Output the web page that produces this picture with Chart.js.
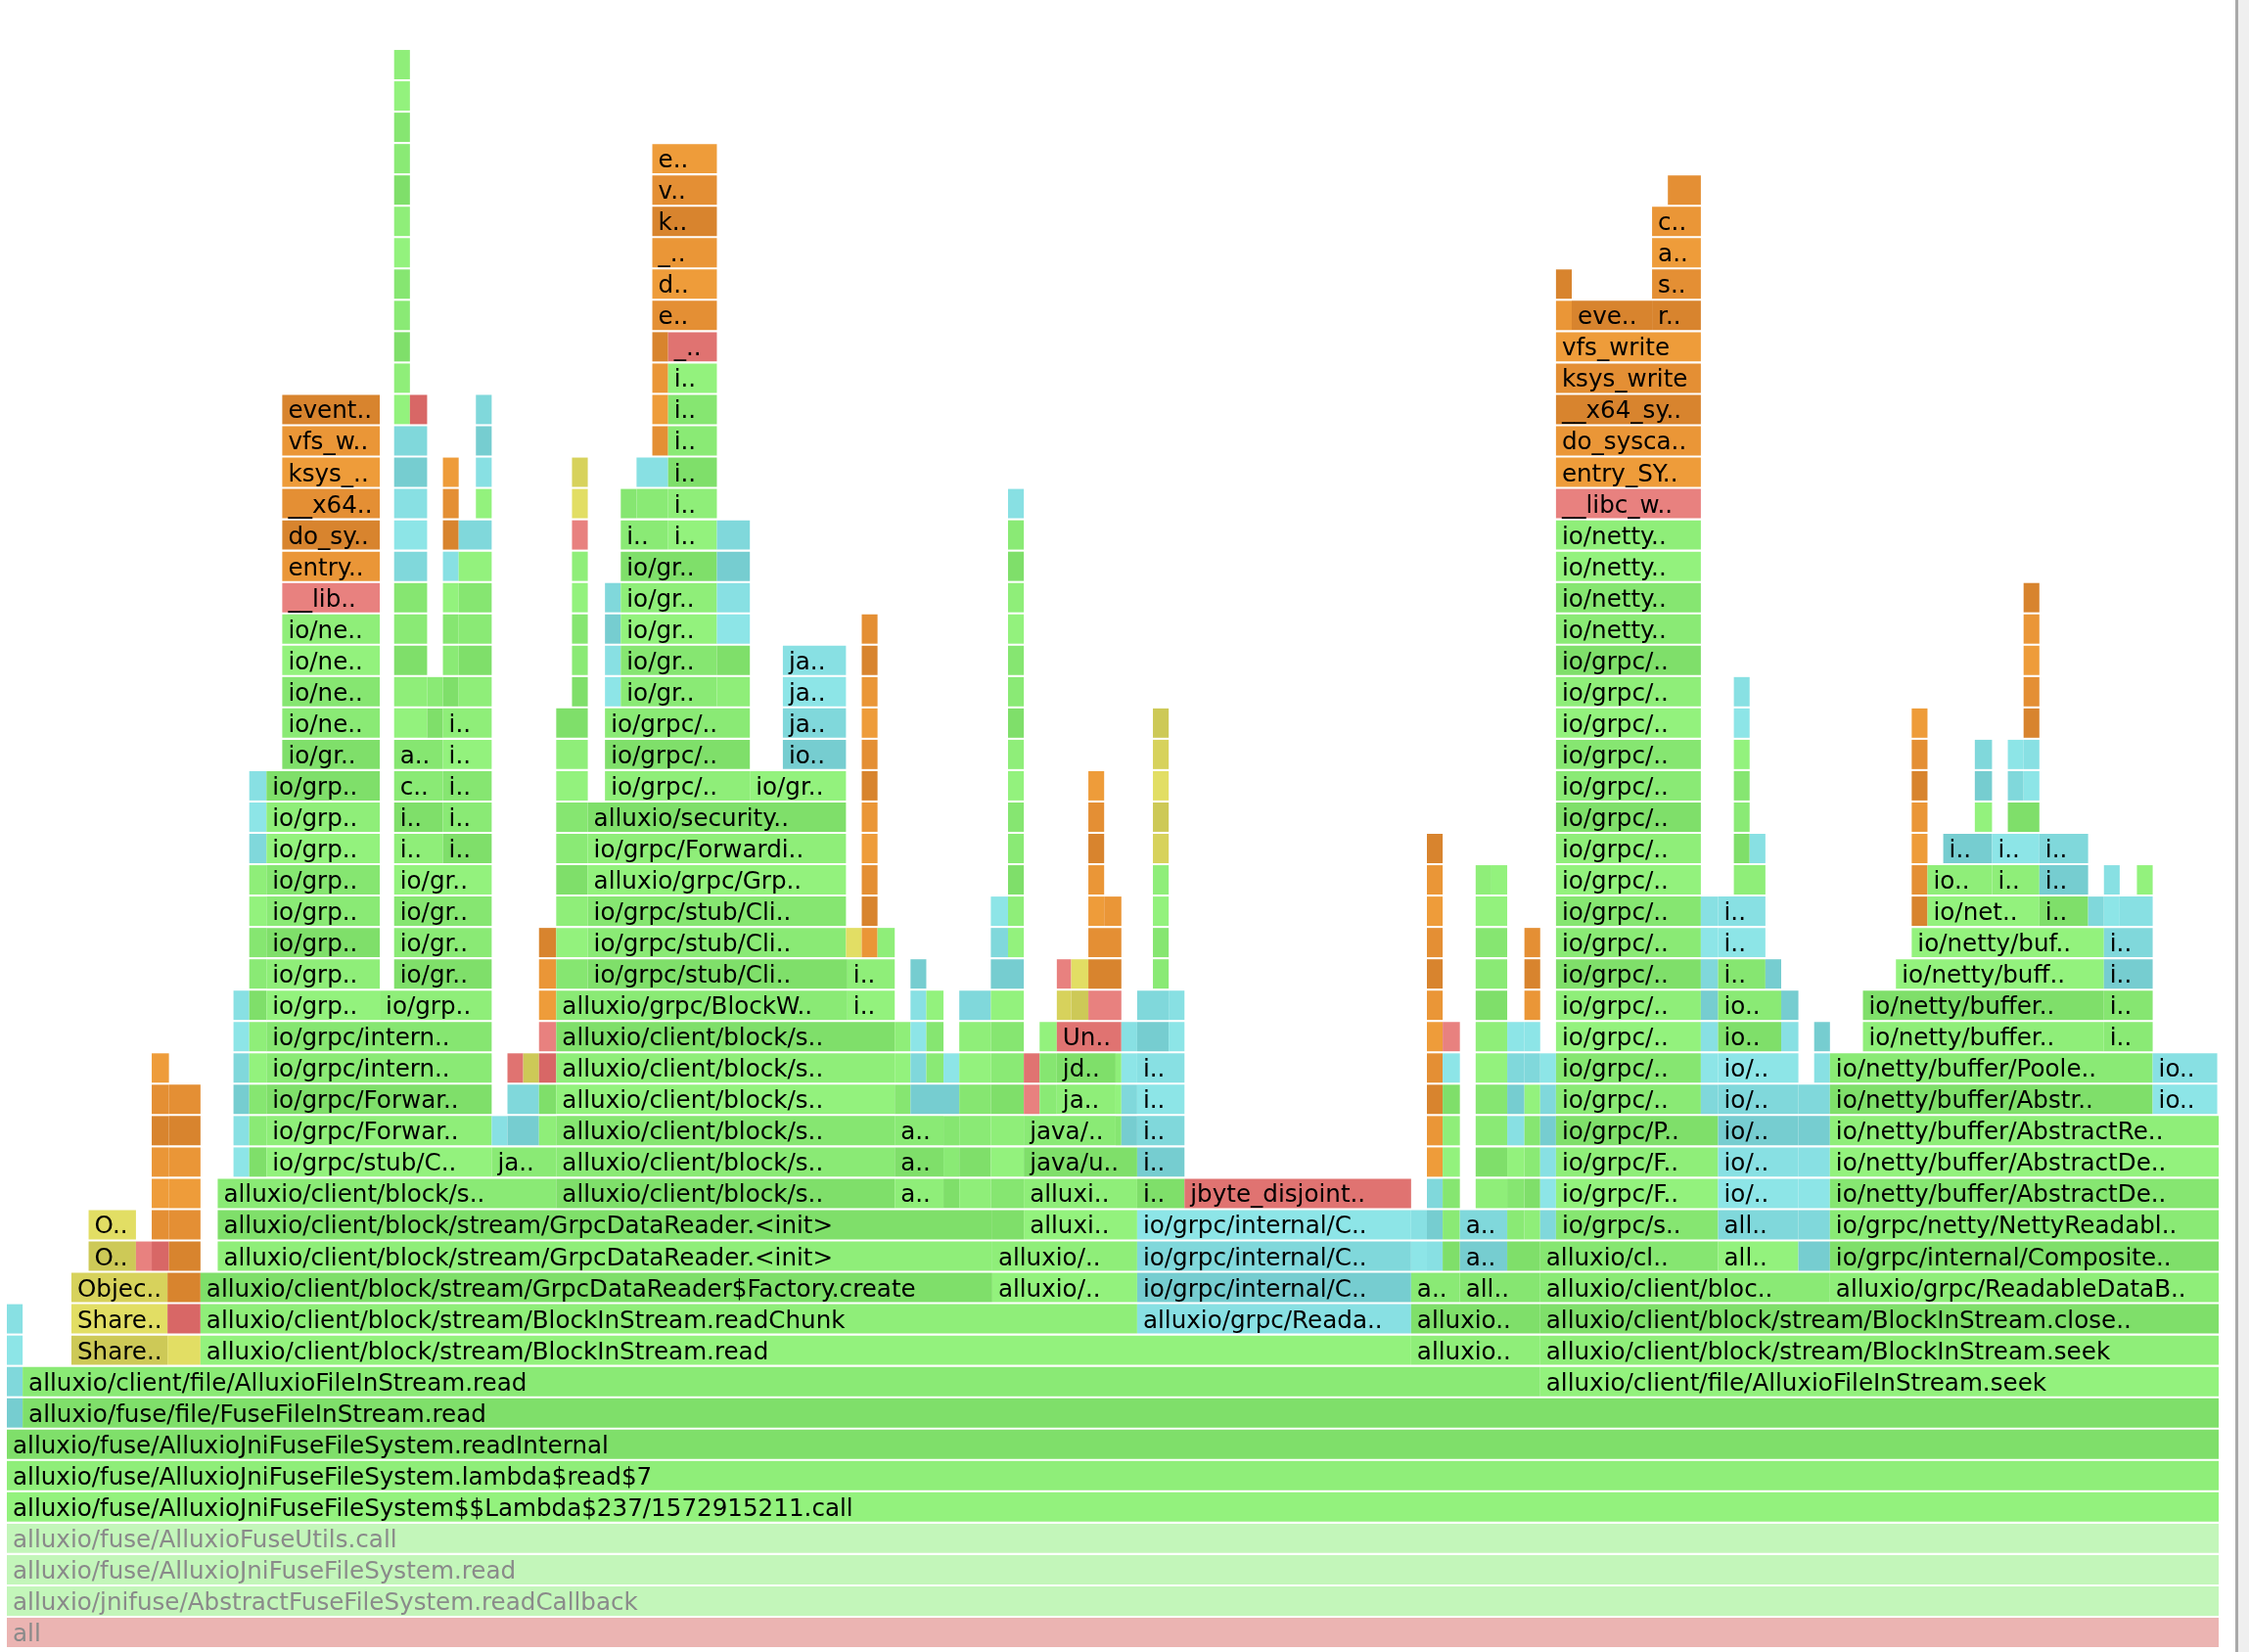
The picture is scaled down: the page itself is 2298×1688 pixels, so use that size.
<!DOCTYPE html>
<html>
<head>
<meta charset="utf-8">
<script src="https://cdn.jsdelivr.net/npm/chart.js@4.4.0/dist/chart.umd.min.js"></script>
<style>
  html, body { margin: 0; padding: 0; background: #fff; }
  #wrap { position: relative; width: 2298px; height: 1688px; overflow: hidden; }
  #side { position: absolute; left: 2284px; top: 0; width: 14px; height: 1688px; background: #efefef; border-left: 3px solid #a9a9a9; }
</style>
</head>
<body>
<div id="wrap">
  <canvas id="flame" width="2298" height="1688"></canvas>
  <div id="side"></div>
</div>
<script>
// stack depth levels (0 = root "all")
const levels = ['0','1','2','3','4','5','6','7','8','9','10','11','12','13','14','15','16','17','18','19','20',
  '21','22','23','24','25','26','27','28','29','30','31','32','33','34','35','36','37','38','39','40',
  '41','42','43','44','45','46','47','48','49','50'];

// frames: [level, startSample, endSample, kind, label]
// kind: J = java, I = inlined, K = kernel, N = native, C = c++
const baseFrames = [
  [0, 5, 1547, 'N', 'all'],
  [1, 5, 1547, 'J', 'alluxio/jnifuse/AbstractFuseFileSystem.readCallback'],
  [2, 5, 1547, 'J', 'alluxio/fuse/AlluxioJniFuseFileSystem.read'],
  [3, 5, 1547, 'J', 'alluxio/fuse/AlluxioFuseUtils.call'],
  [4, 5, 1547, 'J', 'alluxio/fuse/AlluxioJniFuseFileSystem$$Lambda$237/1572915211.call'],
  [5, 5, 1547, 'J', 'alluxio/fuse/AlluxioJniFuseFileSystem.lambda$read$7'],
  [6, 5, 1547, 'J', 'alluxio/fuse/AlluxioJniFuseFileSystem.readInternal'],
  [7, 5, 16, 'I', ''], [7, 16, 1547, 'J', 'alluxio/fuse/file/FuseFileInStream.read'],
  [8, 5, 16, 'I', ''], [8, 16, 1074, 'J', 'alluxio/client/file/AlluxioFileInStream.read'],
  [8, 1074, 1547, 'J', 'alluxio/client/file/AlluxioFileInStream.seek'],
  [9, 5, 16, 'I', ''], [9, 50, 117, 'C', 'Share..'], [9, 117, 140, 'C', ''],
  [9, 140, 984, 'J', 'alluxio/client/block/stream/BlockInStream.read'], [9, 984, 1074, 'J', 'alluxio..'],
  [9, 1074, 1547, 'J', 'alluxio/client/block/stream/BlockInStream.seek'],
  [10, 5, 16, 'I', ''], [10, 50, 117, 'C', 'Share..'], [10, 117, 140, 'N', ''],
  [10, 140, 793, 'J', 'alluxio/client/block/stream/BlockInStream.readChunk'],
  [10, 793, 984, 'I', 'alluxio/grpc/Reada..'], [10, 984, 1074, 'J', 'alluxio..'],
  [10, 1074, 1547, 'J', 'alluxio/client/block/stream/BlockInStream.close..'],
  [11, 50, 117, 'C', 'Objec..'], [11, 117, 140, 'K', ''],
  [11, 140, 692, 'J', 'alluxio/client/block/stream/GrpcDataReader$Factory.create'],
  [11, 692, 793, 'J', 'alluxio/..'], [11, 793, 984, 'I', 'io/grpc/internal/C..'],
  [11, 984, 1018, 'J', 'a..'], [11, 1018, 1074, 'J', 'all..'],
  [11, 1074, 1276, 'J', 'alluxio/client/bloc..'], [11, 1276, 1547, 'J', 'alluxio/grpc/ReadableDataB..'],
  [12, 62, 95, 'C', 'O..'], [12, 95, 106, 'N', ''], [12, 106, 118, 'N', ''], [12, 118, 140, 'K', ''],
  [12, 152, 692, 'J', 'alluxio/client/block/stream/GrpcDataReader.<init>'],
  [12, 692, 793, 'J', 'alluxio/..'], [12, 793, 984, 'I', 'io/grpc/internal/C..'],
  [12, 984, 995, 'I', ''], [12, 995, 1006, 'I', ''], [12, 1006, 1018, 'J', ''],
  [12, 1018, 1051, 'I', 'a..'], [12, 1051, 1074, 'J', ''],
  [12, 1074, 1198, 'J', 'alluxio/cl..'], [12, 1198, 1254, 'J', 'all..'], [12, 1254, 1276, 'I', ''],
  [12, 1276, 1547, 'J', 'io/grpc/internal/Composite..'],
  [13, 62, 95, 'C', 'O..'], [13, 106, 118, 'K', ''], [13, 118, 140, 'K', ''],
  [13, 152, 692, 'J', 'alluxio/client/block/stream/GrpcDataReader.<init>'],
  [13, 692, 714, 'J', ''], [13, 714, 793, 'J', 'alluxi..'], [13, 793, 984, 'I', 'io/grpc/internal/C..'],
  [13, 984, 995, 'I', ''], [13, 995, 1006, 'I', ''], [13, 1006, 1018, 'J', ''],
  [13, 1018, 1051, 'I', 'a..'], [13, 1051, 1063, 'J', ''], [13, 1063, 1074, 'J', ''],
  [13, 1074, 1085, 'I', ''], [13, 1085, 1198, 'J', 'io/grpc/s..'], [13, 1198, 1254, 'I', 'all..'],
  [13, 1254, 1276, 'I', ''], [13, 1276, 1547, 'J', 'io/grpc/netty/NettyReadabl..'],
  [14, 106, 118, 'K', ''], [14, 118, 140, 'K', ''],
  [15, 106, 118, 'K', ''], [15, 118, 140, 'K', ''],
  [16, 106, 118, 'K', ''], [16, 118, 140, 'K', ''],
  [17, 106, 118, 'K', ''], [17, 118, 140, 'K', ''],
  [18, 106, 118, 'K', '']
];

const leftTower = [
  [14, 152, 388, 'J', 'alluxio/client/block/s..'],
  [15, 163, 174, 'I', ''], [15, 174, 186, 'J', ''], [15, 186, 343, 'J', 'io/grpc/stub/C..'], [15, 343, 388, 'J', 'ja..'],
  [16, 163, 174, 'I', ''], [16, 174, 186, 'J', ''], [16, 186, 343, 'J', 'io/grpc/Forwar..'],
  [16, 343, 354, 'I', ''], [16, 354, 376, 'I', ''], [16, 376, 388, 'J', ''],
  [17, 163, 174, 'I', ''], [17, 174, 186, 'J', ''], [17, 186, 343, 'J', 'io/grpc/Forwar..'],
  [17, 354, 376, 'I', ''], [17, 376, 388, 'J', ''],
  [18, 163, 174, 'I', ''], [18, 174, 186, 'J', ''], [18, 186, 343, 'J', 'io/grpc/intern..'],
  [18, 354, 365, 'N', ''], [18, 365, 376, 'C', ''], [18, 376, 388, 'N', ''],
  [19, 163, 174, 'I', ''], [19, 174, 186, 'J', ''], [19, 186, 343, 'J', 'io/grpc/intern..'], [19, 376, 388, 'N', ''],
  [20, 163, 174, 'I', ''], [20, 174, 186, 'J', ''], [20, 186, 265, 'J', 'io/grp..'], [20, 265, 343, 'J', 'io/grp..'], [20, 376, 388, 'K', ''],
  [21, 174, 186, 'J', ''], [21, 186, 265, 'J', 'io/grp..'], [21, 275, 343, 'J', 'io/gr..'], [21, 376, 388, 'K', ''],
  [22, 174, 186, 'J', ''], [22, 186, 265, 'J', 'io/grp..'], [22, 275, 343, 'J', 'io/gr..'], [22, 376, 388, 'K', ''],
  [23, 174, 186, 'J', ''], [23, 186, 265, 'J', 'io/grp..'], [23, 275, 343, 'J', 'io/gr..'],
  [24, 174, 186, 'J', ''], [24, 186, 265, 'J', 'io/grp..'], [24, 275, 343, 'J', 'io/gr..'],
  [25, 174, 186, 'I', ''], [25, 186, 265, 'J', 'io/grp..'], [25, 275, 309, 'J', 'i..'], [25, 309, 343, 'J', 'i..'],
  [26, 174, 186, 'I', ''], [26, 186, 265, 'J', 'io/grp..'], [26, 275, 309, 'J', 'i..'], [26, 309, 343, 'J', 'i..'],
  [27, 174, 186, 'I', ''], [27, 186, 265, 'J', 'io/grp..'], [27, 275, 309, 'J', 'c..'], [27, 309, 343, 'J', 'i..'],
  [28, 197, 265, 'J', 'io/gr..'], [28, 275, 309, 'J', 'a..'], [28, 309, 343, 'J', 'i..'],
  [29, 197, 265, 'J', 'io/ne..'], [29, 275, 298, 'J', ''], [29, 298, 309, 'J', ''], [29, 309, 343, 'J', 'i..'],
  [30, 197, 265, 'J', 'io/ne..'], [30, 275, 298, 'J', ''], [30, 298, 309, 'J', ''], [30, 309, 320, 'J', ''], [30, 320, 343, 'J', ''],
  [31, 197, 265, 'J', 'io/ne..'], [31, 275, 298, 'J', ''], [31, 309, 320, 'J', ''], [31, 320, 343, 'J', ''],
  [32, 197, 265, 'J', 'io/ne..'], [32, 275, 298, 'J', ''], [32, 309, 320, 'J', ''], [32, 320, 343, 'J', ''],
  [33, 197, 265, 'N', '__lib..'], [33, 275, 298, 'J', ''], [33, 309, 320, 'J', ''], [33, 320, 343, 'J', ''],
  [34, 197, 265, 'K', 'entry..'], [34, 275, 298, 'I', ''], [34, 309, 320, 'I', ''], [34, 320, 343, 'J', ''],
  [35, 197, 265, 'K', 'do_sy..'], [35, 275, 298, 'I', ''], [35, 309, 320, 'K', ''], [35, 320, 343, 'I', ''],
  [36, 197, 265, 'K', '__x64..'], [36, 275, 298, 'I', ''], [36, 309, 320, 'K', ''], [36, 332, 343, 'J', ''],
  [37, 197, 265, 'K', 'ksys_..'], [37, 275, 298, 'I', ''], [37, 309, 320, 'K', ''], [37, 332, 343, 'I', ''],
  [38, 197, 265, 'K', 'vfs_w..'], [38, 275, 298, 'I', ''], [38, 332, 343, 'I', ''],
  [39, 197, 265, 'K', 'event..'], [39, 275, 286, 'J', ''], [39, 286, 298, 'N', ''], [39, 332, 343, 'I', ''],
  [40, 275, 286, 'J', ''], [41, 275, 286, 'J', ''], [42, 275, 286, 'J', ''], [43, 275, 286, 'J', ''],
  [44, 275, 286, 'J', ''], [45, 275, 286, 'J', ''], [46, 275, 286, 'J', ''], [47, 275, 286, 'J', ''],
  [48, 275, 286, 'J', ''], [49, 275, 286, 'J', ''], [50, 275, 286, 'J', '']
];

const grpcTower = [
  [14, 388, 624, 'J', 'alluxio/client/block/s..'], [15, 388, 624, 'J', 'alluxio/client/block/s..'],
  [16, 388, 624, 'J', 'alluxio/client/block/s..'], [17, 388, 624, 'J', 'alluxio/client/block/s..'],
  [18, 388, 624, 'J', 'alluxio/client/block/s..'], [19, 388, 624, 'J', 'alluxio/client/block/s..'],
  [20, 388, 591, 'J', 'alluxio/grpc/BlockW..'], [20, 591, 624, 'J', 'i..'],
  [21, 388, 410, 'J', ''], [21, 410, 591, 'J', 'io/grpc/stub/Cli..'], [21, 591, 624, 'J', 'i..'],
  [22, 388, 410, 'J', ''], [22, 410, 590, 'J', 'io/grpc/stub/Cli..'], [22, 590, 601, 'C', ''], [22, 601, 612, 'K', ''], [22, 612, 624, 'J', ''],
  [23, 388, 410, 'J', ''], [23, 410, 590, 'J', 'io/grpc/stub/Cli..'], [23, 601, 612, 'K', ''],
  [24, 388, 410, 'J', ''], [24, 410, 590, 'J', 'alluxio/grpc/Grp..'], [24, 601, 612, 'K', ''],
  [25, 388, 410, 'J', ''], [25, 410, 590, 'J', 'io/grpc/Forwardi..'], [25, 601, 612, 'K', ''],
  [26, 388, 410, 'J', ''], [26, 410, 590, 'J', 'alluxio/security..'], [26, 601, 612, 'K', ''],
  [27, 388, 410, 'J', ''], [27, 422, 523, 'J', 'io/grpc/..'], [27, 523, 590, 'J', 'io/gr..'], [27, 601, 612, 'K', ''],
  [28, 388, 410, 'J', ''], [28, 422, 523, 'J', 'io/grpc/..'], [28, 546, 590, 'I', 'io..'], [28, 601, 612, 'K', ''],
  [29, 388, 410, 'J', ''], [29, 422, 523, 'J', 'io/grpc/..'], [29, 546, 590, 'I', 'ja..'], [29, 601, 612, 'K', ''],
  [30, 399, 410, 'J', ''], [30, 422, 433, 'I', ''], [30, 433, 500, 'J', 'io/gr..'], [30, 500, 523, 'J', ''], [30, 546, 590, 'I', 'ja..'], [30, 601, 612, 'K', ''],
  [31, 399, 410, 'J', ''], [31, 422, 433, 'I', ''], [31, 433, 500, 'J', 'io/gr..'], [31, 500, 523, 'J', ''], [31, 546, 590, 'I', 'ja..'], [31, 601, 612, 'K', ''],
  [32, 399, 410, 'J', ''], [32, 422, 433, 'I', ''], [32, 433, 500, 'J', 'io/gr..'], [32, 500, 523, 'I', ''], [32, 601, 612, 'K', ''],
  [33, 399, 410, 'J', ''], [33, 422, 433, 'I', ''], [33, 433, 500, 'J', 'io/gr..'], [33, 500, 523, 'I', ''],
  [34, 399, 410, 'J', ''], [34, 433, 500, 'J', 'io/gr..'], [34, 500, 523, 'I', ''],
  [35, 399, 410, 'N', ''], [35, 433, 466, 'J', 'i..'], [35, 466, 500, 'J', 'i..'], [35, 500, 523, 'I', ''],
  [36, 399, 410, 'C', ''], [36, 433, 444, 'J', ''], [36, 444, 466, 'J', ''], [36, 466, 500, 'J', 'i..'],
  [37, 399, 410, 'C', ''], [37, 444, 466, 'I', ''], [37, 466, 500, 'J', 'i..'],
  [38, 455, 466, 'K', ''], [38, 466, 500, 'J', 'i..'],
  [39, 455, 466, 'K', ''], [39, 466, 500, 'J', 'i..'],
  [40, 455, 466, 'K', ''], [40, 466, 500, 'J', 'i..'],
  [41, 455, 466, 'K', ''], [41, 466, 500, 'N', '_..'],
  [42, 455, 500, 'K', 'e..'], [43, 455, 500, 'K', 'd..'], [44, 455, 500, 'K', '_..'],
  [45, 455, 500, 'K', 'k..'], [46, 455, 500, 'K', 'v..'], [47, 455, 500, 'K', 'e..'],
  [14, 624, 658, 'J', 'a..'], [14, 658, 669, 'J', ''], [14, 669, 691, 'J', ''], [14, 691, 714, 'J', ''],
  [15, 624, 658, 'J', 'a..'], [15, 658, 669, 'J', ''], [15, 669, 691, 'J', ''], [15, 691, 714, 'J', ''],
  [16, 624, 658, 'J', 'a..'], [16, 658, 669, 'J', ''], [16, 669, 691, 'J', ''], [16, 691, 714, 'J', ''],
  [17, 624, 635, 'J', ''], [17, 635, 669, 'I', ''], [17, 669, 691, 'J', ''], [17, 691, 714, 'J', ''],
  [18, 624, 635, 'J', ''], [18, 635, 646, 'I', ''], [18, 646, 658, 'J', ''], [18, 658, 669, 'I', ''], [18, 669, 691, 'J', ''], [18, 691, 714, 'J', ''],
  [19, 624, 635, 'J', ''], [19, 635, 646, 'I', ''], [19, 646, 658, 'J', ''], [19, 669, 691, 'J', ''], [19, 691, 714, 'J', ''],
  [20, 635, 646, 'I', ''], [20, 646, 658, 'J', ''], [20, 669, 691, 'I', ''], [20, 691, 714, 'J', ''],
  [21, 635, 646, 'I', ''], [21, 691, 714, 'I', ''],
  [22, 691, 703, 'I', ''], [22, 703, 714, 'J', ''],
  [23, 691, 703, 'I', ''], [23, 703, 714, 'J', ''],
  [24, 703, 714, 'J', ''], [25, 703, 714, 'J', ''], [26, 703, 714, 'J', ''], [27, 703, 714, 'J', ''],
  [28, 703, 714, 'J', ''], [29, 703, 714, 'J', ''], [30, 703, 714, 'J', ''], [31, 703, 714, 'J', ''],
  [32, 703, 714, 'J', ''], [33, 703, 714, 'J', ''], [34, 703, 714, 'J', ''], [35, 703, 714, 'J', ''],
  [36, 703, 714, 'I', '']
];

const readerTower = [
  [14, 714, 793, 'J', 'alluxi..'], [14, 793, 826, 'J', 'i..'], [14, 826, 984, 'N', 'jbyte_disjoint..'],
  [15, 714, 793, 'J', 'java/u..'], [15, 793, 826, 'I', 'i..'],
  [16, 714, 778, 'J', 'java/..'], [16, 778, 782, 'J', ''], [16, 782, 793, 'I', ''], [16, 793, 826, 'I', 'i..'],
  [17, 714, 725, 'N', ''], [17, 725, 737, 'J', ''], [17, 737, 778, 'J', 'ja..'], [17, 778, 782, 'J', ''], [17, 782, 793, 'I', ''], [17, 793, 826, 'I', 'i..'],
  [18, 714, 725, 'N', ''], [18, 725, 737, 'J', ''], [18, 737, 778, 'J', 'jd..'], [18, 778, 782, 'J', ''], [18, 782, 793, 'I', ''], [18, 793, 826, 'I', 'i..'],
  [19, 725, 737, 'J', ''], [19, 737, 782, 'N', 'Un..'], [19, 782, 793, 'I', ''], [19, 793, 815, 'I', ''], [19, 815, 826, 'I', ''],
  [20, 737, 747, 'C', ''], [20, 747, 759, 'C', ''], [20, 759, 782, 'N', ''], [20, 793, 815, 'I', ''], [20, 815, 826, 'I', ''],
  [21, 737, 747, 'N', ''], [21, 747, 759, 'C', ''], [21, 759, 782, 'K', ''], [21, 804, 815, 'J', ''],
  [22, 759, 782, 'K', ''], [22, 804, 815, 'J', ''],
  [23, 759, 770, 'K', ''], [23, 770, 782, 'K', ''], [23, 804, 815, 'J', ''],
  [24, 759, 770, 'K', ''], [24, 804, 815, 'J', ''],
  [25, 759, 770, 'K', ''], [25, 804, 815, 'C', ''],
  [26, 759, 770, 'K', ''], [26, 804, 815, 'C', ''],
  [27, 759, 770, 'K', ''], [27, 804, 815, 'C', ''],
  [28, 804, 815, 'C', ''], [29, 804, 815, 'C', '']
];

const seekTower = [
  [14, 995, 1006, 'I', ''], [14, 1006, 1018, 'J', ''], [14, 1029, 1051, 'J', ''], [14, 1051, 1063, 'J', ''], [14, 1063, 1074, 'J', ''],
  [15, 995, 1006, 'K', ''], [15, 1006, 1018, 'J', ''], [15, 1029, 1051, 'J', ''], [15, 1051, 1063, 'J', ''], [15, 1063, 1074, 'J', ''],
  [16, 995, 1006, 'K', ''], [16, 1006, 1018, 'J', ''], [16, 1029, 1051, 'J', ''], [16, 1051, 1063, 'I', ''], [16, 1063, 1074, 'J', ''],
  [17, 995, 1006, 'K', ''], [17, 1006, 1018, 'J', ''], [17, 1029, 1051, 'J', ''], [17, 1051, 1063, 'I', ''], [17, 1063, 1074, 'J', ''],
  [18, 995, 1006, 'K', ''], [18, 1006, 1018, 'I', ''], [18, 1029, 1051, 'J', ''], [18, 1051, 1063, 'I', ''], [18, 1063, 1074, 'I', ''],
  [19, 995, 1006, 'K', ''], [19, 1006, 1018, 'N', ''], [19, 1029, 1051, 'J', ''], [19, 1051, 1063, 'I', ''], [19, 1063, 1074, 'I', ''],
  [20, 995, 1006, 'K', ''], [20, 1029, 1051, 'J', ''], [20, 1063, 1074, 'K', ''],
  [21, 995, 1006, 'K', ''], [21, 1029, 1051, 'J', ''], [21, 1063, 1074, 'K', ''],
  [22, 995, 1006, 'K', ''], [22, 1029, 1051, 'J', ''], [22, 1063, 1074, 'K', ''],
  [23, 995, 1006, 'K', ''], [23, 1029, 1051, 'J', ''],
  [24, 995, 1006, 'K', ''], [24, 1029, 1040, 'J', ''], [24, 1040, 1051, 'J', ''],
  [25, 995, 1006, 'K', '']
];

const nettyTower = [
  [14, 1074, 1085, 'I', ''], [14, 1085, 1198, 'J', 'io/grpc/F..'], [14, 1198, 1254, 'I', 'io/..'], [14, 1254, 1276, 'I', ''], [14, 1276, 1547, 'J', 'io/netty/buffer/AbstractDe..'],
  [15, 1074, 1085, 'I', ''], [15, 1085, 1198, 'J', 'io/grpc/F..'], [15, 1198, 1254, 'I', 'io/..'], [15, 1254, 1276, 'I', ''], [15, 1276, 1547, 'J', 'io/netty/buffer/AbstractDe..'],
  [16, 1074, 1085, 'I', ''], [16, 1085, 1198, 'J', 'io/grpc/P..'], [16, 1198, 1254, 'I', 'io/..'], [16, 1254, 1276, 'I', ''], [16, 1276, 1547, 'J', 'io/netty/buffer/AbstractRe..'],
  [17, 1074, 1085, 'I', ''], [17, 1085, 1186, 'J', 'io/grpc/..'], [17, 1186, 1198, 'I', ''], [17, 1198, 1254, 'I', 'io/..'], [17, 1254, 1276, 'I', ''],
  [17, 1276, 1501, 'J', 'io/netty/buffer/Abstr..'], [17, 1501, 1546, 'I', 'io..'],
  [18, 1074, 1085, 'I', ''], [18, 1085, 1186, 'J', 'io/grpc/..'], [18, 1186, 1198, 'I', ''], [18, 1198, 1254, 'I', 'io/..'], [18, 1265, 1276, 'I', ''],
  [18, 1276, 1501, 'J', 'io/netty/buffer/Poole..'], [18, 1501, 1546, 'I', 'io..'],
  [19, 1085, 1186, 'J', 'io/grpc/..'], [19, 1186, 1198, 'I', ''], [19, 1198, 1242, 'J', 'io..'], [19, 1242, 1254, 'I', ''], [19, 1265, 1276, 'I', ''],
  [19, 1299, 1467, 'J', 'io/netty/buffer..'], [19, 1467, 1501, 'J', 'i..'],
  [20, 1085, 1186, 'J', 'io/grpc/..'], [20, 1186, 1198, 'I', ''], [20, 1198, 1242, 'J', 'io..'], [20, 1242, 1254, 'I', ''],
  [20, 1299, 1467, 'J', 'io/netty/buffer..'], [20, 1467, 1501, 'J', 'i..'],
  [21, 1085, 1186, 'J', 'io/grpc/..'], [21, 1186, 1198, 'I', ''], [21, 1198, 1231, 'J', 'i..'], [21, 1231, 1242, 'I', ''],
  [21, 1322, 1467, 'J', 'io/netty/buff..'], [21, 1467, 1501, 'I', 'i..'],
  [22, 1085, 1186, 'J', 'io/grpc/..'], [22, 1186, 1198, 'I', ''], [22, 1198, 1231, 'I', 'i..'],
  [22, 1333, 1467, 'J', 'io/netty/buf..'], [22, 1467, 1501, 'I', 'i..'],
  [23, 1085, 1186, 'J', 'io/grpc/..'], [23, 1186, 1198, 'I', ''], [23, 1198, 1231, 'I', 'i..'], [23, 1333, 1344, 'K', ''],
  [23, 1344, 1422, 'J', 'io/net..'], [23, 1422, 1456, 'J', 'i..'], [23, 1456, 1467, 'I', ''], [23, 1467, 1478, 'I', ''], [23, 1478, 1501, 'I', ''],
  [24, 1085, 1186, 'J', 'io/grpc/..'], [24, 1209, 1231, 'J', ''], [24, 1333, 1344, 'K', ''], [24, 1344, 1389, 'J', 'io..'],
  [24, 1389, 1422, 'J', 'i..'], [24, 1422, 1456, 'I', 'i..'], [24, 1467, 1478, 'I', ''], [24, 1490, 1501, 'J', ''],
  [25, 1085, 1186, 'J', 'io/grpc/..'], [25, 1209, 1220, 'J', ''], [25, 1220, 1231, 'I', ''], [25, 1333, 1344, 'K', ''],
  [25, 1355, 1389, 'I', 'i..'], [25, 1389, 1422, 'I', 'i..'], [25, 1422, 1456, 'I', 'i..'],
  [26, 1085, 1186, 'J', 'io/grpc/..'], [26, 1209, 1220, 'J', ''], [26, 1333, 1344, 'K', ''], [26, 1377, 1389, 'J', ''], [26, 1400, 1422, 'J', ''],
  [27, 1085, 1186, 'J', 'io/grpc/..'], [27, 1209, 1220, 'J', ''], [27, 1333, 1344, 'K', ''], [27, 1377, 1389, 'I', ''], [27, 1400, 1411, 'I', ''], [27, 1411, 1422, 'I', ''],
  [28, 1085, 1186, 'J', 'io/grpc/..'], [28, 1209, 1220, 'J', ''], [28, 1333, 1344, 'K', ''], [28, 1377, 1389, 'I', ''], [28, 1400, 1411, 'I', ''], [28, 1411, 1422, 'I', ''],
  [29, 1085, 1186, 'J', 'io/grpc/..'], [29, 1209, 1220, 'I', ''], [29, 1333, 1344, 'K', ''], [29, 1411, 1422, 'K', ''],
  [30, 1085, 1186, 'J', 'io/grpc/..'], [30, 1209, 1220, 'I', ''], [30, 1411, 1422, 'K', ''],
  [31, 1085, 1186, 'J', 'io/grpc/..'], [31, 1411, 1422, 'K', ''],
  [32, 1085, 1186, 'J', 'io/netty..'], [32, 1411, 1422, 'K', ''],
  [33, 1085, 1186, 'J', 'io/netty..'], [33, 1411, 1422, 'K', ''],
  [34, 1085, 1186, 'J', 'io/netty..'],
  [35, 1085, 1186, 'J', 'io/netty..'],
  [36, 1085, 1186, 'N', '__libc_w..'],
  [37, 1085, 1186, 'K', 'entry_SY..'],
  [38, 1085, 1186, 'K', 'do_sysca..'],
  [39, 1085, 1186, 'K', '__x64_sy..'],
  [40, 1085, 1186, 'K', 'ksys_write'],
  [41, 1085, 1186, 'K', 'vfs_write'],
  [42, 1085, 1096, 'K', ''], [42, 1096, 1152, 'K', 'eve..'], [42, 1152, 1186, 'K', 'r..'],
  [43, 1085, 1096, 'K', ''], [43, 1152, 1186, 'K', 's..'],
  [44, 1152, 1186, 'K', 'a..'],
  [45, 1152, 1186, 'K', 'c..'],
  [46, 1163, 1186, 'K', '']
];

const zoomRootLevel = 4; // frames below the selected root are drawn faded

const palettes = {
  J: ['#8fee79', '#86e671', '#7fdf6a', '#93f27d', '#8aea75'],
  I: ['#8de5e7', '#80d8db', '#76cdd0', '#88e0e3'],
  K: ['#ee9c3a', '#e48f34', '#d8842e', '#ea9637'],
  N: ['#e07371', '#d86766', '#e8817f'],
  C: ['#e2de64', '#d7d25c', '#cdc957']
};
const fadedColors = { J: '#c3f6ba', N: '#ebb4b2' };

const frames = [].concat(baseFrames, leftTower, grpcTower, readerTower, seekTower, nettyTower);

function frameColor(f) {
  if (f[0] < zoomRootLevel) return fadedColors[f[3]];
  const pal = palettes[f[3]];
  return pal[(f[0] * 7 + f[1] * 13) % pal.length];
}

const frameLabels = {
  id: 'frameLabels',
  afterDatasetsDraw(chart) {
    const ctx = chart.ctx;
    const bars = chart.getDatasetMeta(0).data;
    ctx.save();
    ctx.font = '24.6px "DejaVu Sans", Verdana, sans-serif';
    ctx.textBaseline = 'alphabetic';
    bars.forEach((bar, i) => {
      const f = frames[i];
      if (!f[4]) return;
      const left = Math.min(bar.x, bar.base);
      const w = Math.abs(bar.x - bar.base);
      if (w < 30) return;
      ctx.fillStyle = f[0] < zoomRootLevel ? '#8a8a8a' : '#000000';
      ctx.fillText(f[4], left + 6, bar.y + 9, w - 8);
    });
    ctx.restore();
  }
};

const ctx = document.getElementById('flame').getContext('2d');
new Chart(ctx, {
  type: 'bar',
  data: {
    labels: levels,
    datasets: [{
      data: frames.map(f => ({ x: [f[1], f[2]], y: String(f[0]) })),
      backgroundColor: frames.map(frameColor),
      borderWidth: 0,
      inflateAmount: 0,
      barPercentage: 1,
      categoryPercentage: 0.935
    }]
  },
  options: {
    indexAxis: 'y',
    responsive: false,
    animation: false,
    devicePixelRatio: 1,
    layout: { padding: { left: 7, right: 31, top: 50, bottom: 4 } },
    scales: {
      x: { type: 'linear', min: 5, max: 1547, display: false },
      y: { type: 'category', reverse: true, display: false }
    },
    plugins: {
      legend: { display: false },
      tooltip: { enabled: false }
    }
  },
  plugins: [frameLabels]
});
</script>
</body>
</html>
